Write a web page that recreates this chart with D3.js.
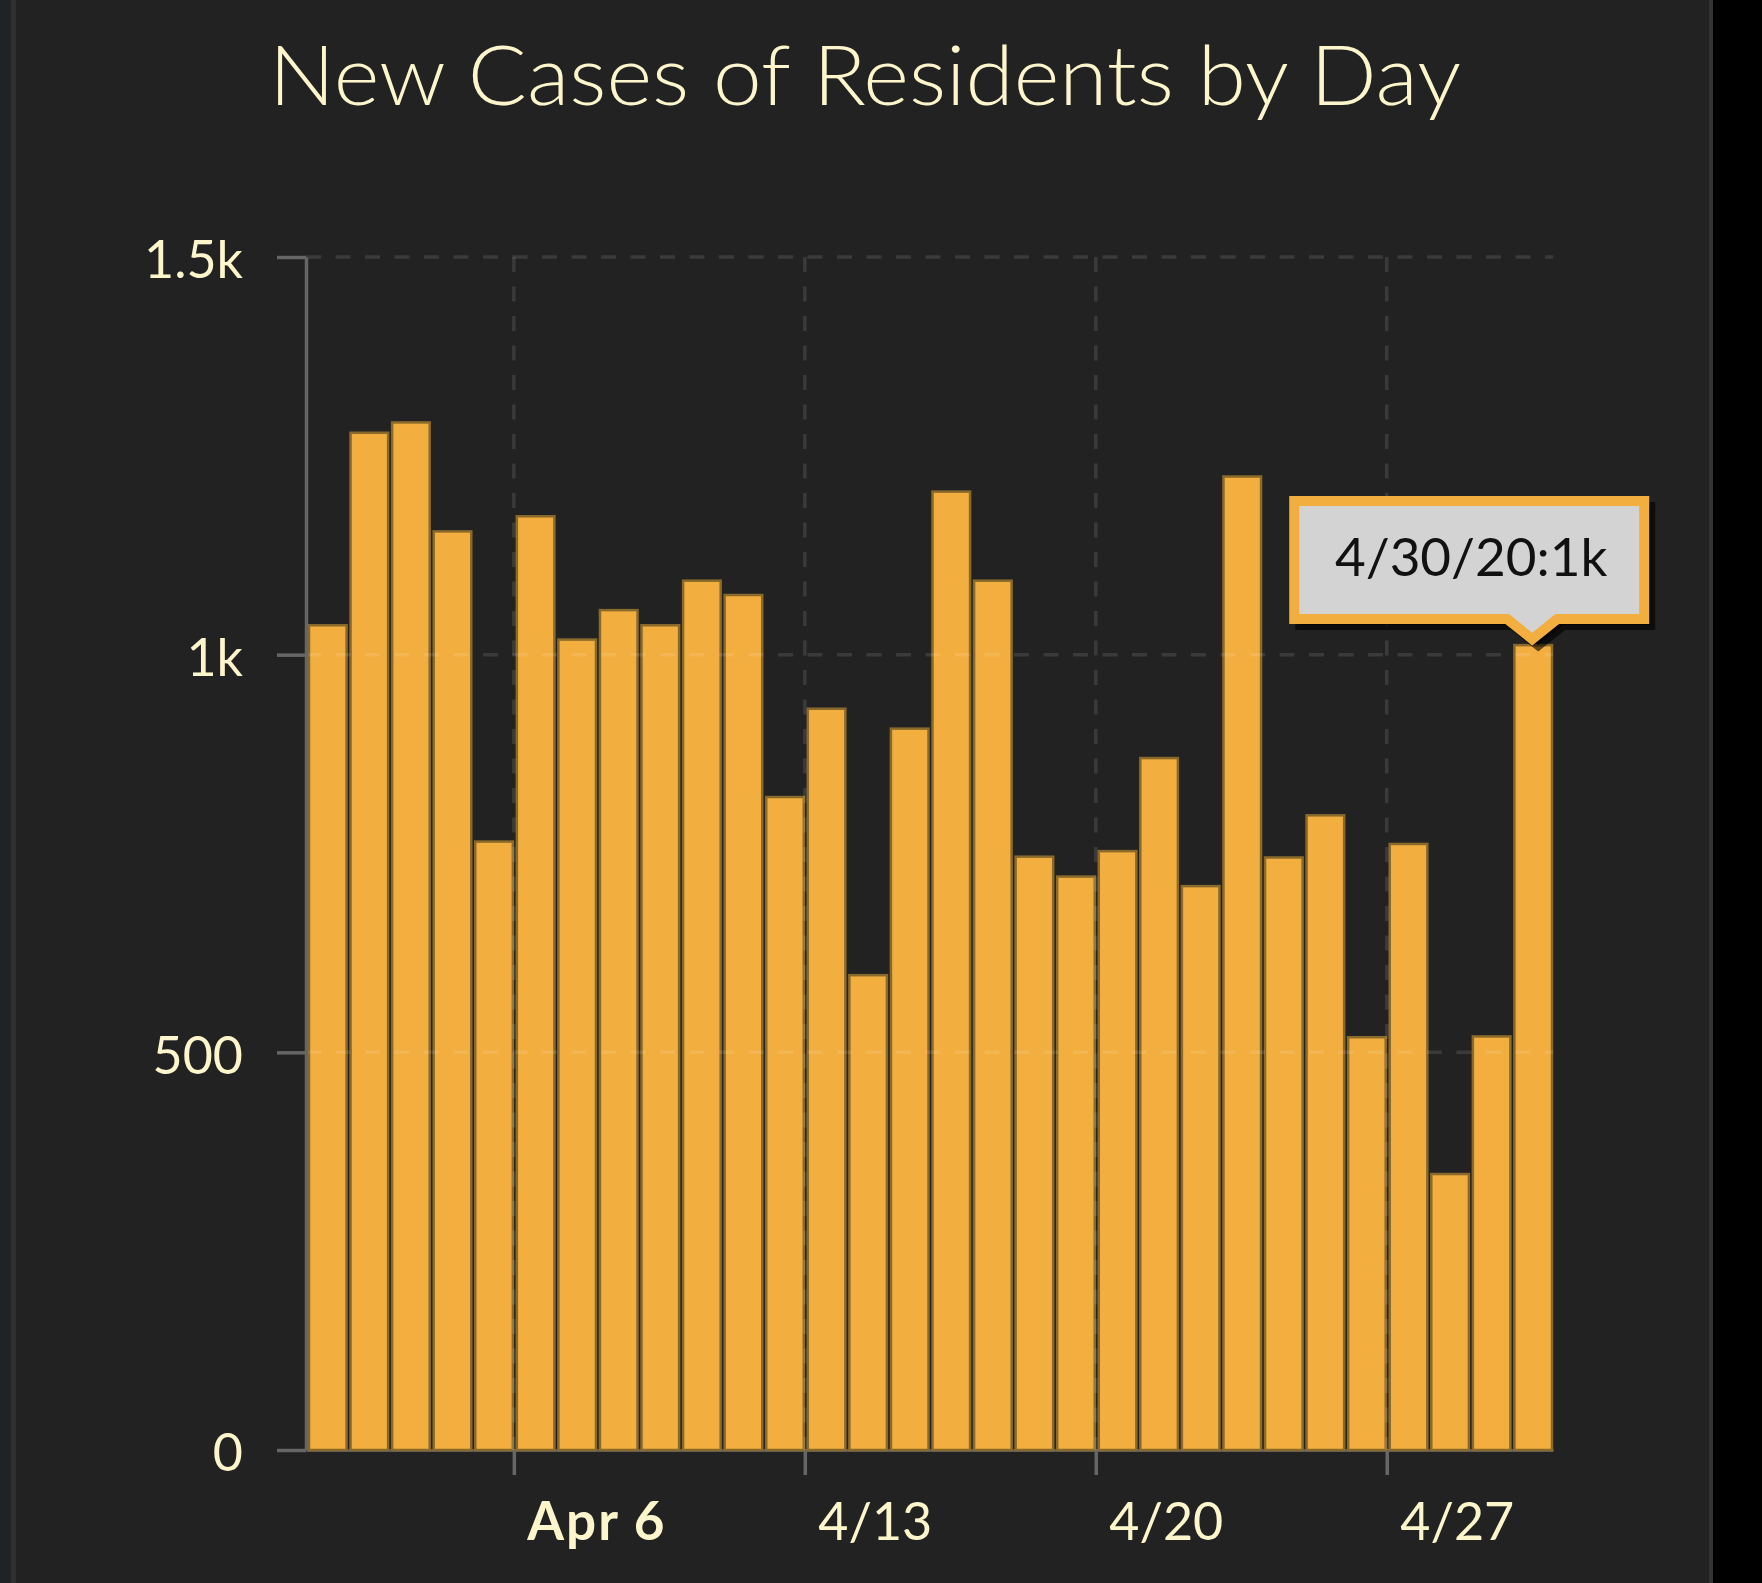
<!DOCTYPE html>
<html><head><meta charset="utf-8">
<script src="https://cdn.jsdelivr.net/npm/d3@7"></script>
<style>
html,body{margin:0;padding:0;background:#000;}
svg{display:block;}
</style></head><body>
<svg id="chart" width="1762" height="1583"></svg>
<script>
const title = "New Cases of Residents by Day";
const dates = ["2020-04-01","2020-04-02","2020-04-03","2020-04-04","2020-04-05","2020-04-06","2020-04-07","2020-04-08","2020-04-09","2020-04-10",
  "2020-04-11","2020-04-12","2020-04-13","2020-04-14","2020-04-15","2020-04-16","2020-04-17","2020-04-18","2020-04-19","2020-04-20",
  "2020-04-21","2020-04-22","2020-04-23","2020-04-24","2020-04-25","2020-04-26","2020-04-27","2020-04-28","2020-04-29","2020-04-30"];
const newCases = [1037, 1279, 1292, 1155, 765, 1174, 1019, 1056, 1037, 1093,
  1075, 821, 932, 597, 907, 1205, 1093, 746, 721, 753,
  870, 709, 1224, 745, 798, 519, 762, 347, 520, 1012];
const yTicks = [0, 500, 1000, 1500];
const yTickLabels = ["0", "500", "1k", "1.5k"];
const xTickDates = ["2020-04-06", "2020-04-13", "2020-04-20", "2020-04-27"];
const xTickLabels = ["Apr 6", "4/13", "4/20", "4/27"];
const tooltipLabel = "4/30/20:1k";

(function () {
const parse = d3.timeParse("%Y-%m-%d");
const data = dates.map((d, i) => ({date: parse(d), value: newCases[i]}));
const start = parse("2020-04-01"), end = parse("2020-05-01");

const svg = d3.select("#chart");
const W = 1762, H = 1583;
const cream = "#fdf6cc";
const font = "Lato, 'Open Sans', sans-serif";

// card background
svg.append("rect").attr("x", 0).attr("y", 0).attr("width", W).attr("height", H).attr("fill", "#000");
svg.append("rect").attr("x", 0).attr("y", 0).attr("width", 1713).attr("height", H).attr("fill", "#222222");
svg.append("rect").attr("x", 0).attr("y", 0).attr("width", 11).attr("height", H).attr("fill", "#1f2326");
svg.append("rect").attr("x", 11).attr("y", 0).attr("width", 5).attr("height", H).attr("fill", "#303030");
svg.append("rect").attr("x", 1709).attr("y", 0).attr("width", 4).attr("height", H).attr("fill", "#333333");

// title
svg.append("text").attr("x", 865).attr("y", 105).attr("text-anchor", "middle")
  .attr("font-family", font).attr("font-weight", 300).attr("font-size", 82)
  .attr("fill", cream).attr("textLength", 1192).attr("lengthAdjust", "spacingAndGlyphs")
  .text(title);

const x = d3.scaleTime().domain([start, end]).range([306, 1553]);
const y = d3.scaleLinear().domain([0, 1500]).range([1450, 257]);

// x axis (domain under bars)
const xAxis = svg.append("g").attr("transform", `translate(0,${y(0)})`)
  .call(d3.axisBottom(x).tickValues(xTickDates.map(parse)).tickSize(25).tickSizeOuter(0)
    .tickFormat((d, i) => xTickLabels[i]));
xAxis.select(".domain").attr("stroke", "#5e5e5e").attr("stroke-width", 3);
xAxis.selectAll(".tick line").attr("stroke", "#666").attr("stroke-width", 3.5);
xAxis.selectAll(".tick text").attr("x", 13).attr("y", 90).attr("dy", 0)
  .attr("text-anchor", "start").attr("fill", cream)
  .attr("font-family", font)
  .attr("font-size", (d, i) => i === 0 ? 53 : 52)
  .attr("letter-spacing", (d, i) => i === 0 ? 2 : 0)
  .attr("font-weight", (d, i) => i === 0 ? 700 : 400);

// bars
svg.append("g").selectAll("rect").data(data).join("rect")
  .attr("x", d => x(d.date) + 3)
  .attr("width", d => x(d3.timeDay.offset(d.date, 1)) - x(d.date) - 4)
  .attr("y", d => y(d.value))
  .attr("height", d => y(0) - y(d.value))
  .attr("fill", "#f2ae3e")
  .attr("stroke", "#8a6a2b")
  .attr("stroke-width", 2.5);

// gridlines (on top, faint)
const grid = svg.append("g").attr("stroke", "rgba(255,255,255,0.11)").attr("stroke-width", 3.5)
  .attr("stroke-dasharray", "15,14.5");
grid.selectAll("line.h").data(yTicks.filter(d => d > 0)).join("line").attr("class", "h")
  .attr("x1", x(start)).attr("x2", x(end)).attr("y1", d => y(d)).attr("y2", d => y(d));
grid.selectAll("line.v").data(xTickDates.map(parse)).join("line").attr("class", "v")
  .attr("x1", d => x(d)).attr("x2", d => x(d)).attr("y1", y(1500)).attr("y2", y(0));

// y axis
const yAxis = svg.append("g").attr("transform", `translate(${x(start)},0)`)
  .call(d3.axisLeft(y).tickValues(yTicks).tickSize(29).tickPadding(34).tickSizeOuter(0)
    .tickFormat((d, i) => yTickLabels[i]));
yAxis.select(".domain").attr("stroke", "#666").attr("stroke-width", 3.5);
yAxis.selectAll(".tick line").attr("stroke", "#666").attr("stroke-width", 3.5);
yAxis.selectAll(".tick text").attr("fill", cream).attr("font-family", font)
  .attr("font-size", 52).attr("font-weight", 400).attr("dy", "0.4em");

// tooltip on last bar
const last = data[data.length - 1];
const cx = (x(last.date) + x(d3.timeDay.offset(last.date, 1))) / 2;
const tipY = y(last.value) - 6;
const boxBottom = tipY - 20, boxTop = boxBottom - 118;
const boxLeft = cx - 238, boxRight = cx + 112;
const tipPath = d3.path();
tipPath.moveTo(boxLeft, boxTop);
tipPath.lineTo(boxRight, boxTop);
tipPath.lineTo(boxRight, boxBottom);
tipPath.lineTo(cx + 25, boxBottom);
tipPath.lineTo(cx, tipY);
tipPath.lineTo(cx - 25, boxBottom);
tipPath.lineTo(boxLeft, boxBottom);
tipPath.closePath();
svg.append("path").attr("d", tipPath.toString()).attr("transform", "translate(6,6)")
  .attr("fill", "rgba(0,0,0,0.6)").attr("stroke", "rgba(0,0,0,0.6)").attr("stroke-width", 10)
  .attr("stroke-linejoin", "miter");
svg.append("path").attr("d", tipPath.toString())
  .attr("fill", "#d3d3d3").attr("stroke", "#f2ae3e").attr("stroke-width", 10)
  .attr("stroke-linejoin", "miter");
svg.append("text").attr("x", (boxLeft + boxRight) / 2 + 2).attr("y", boxTop + 75)
  .attr("text-anchor", "middle").attr("font-family", font).attr("font-size", 53)
  .attr("fill", "#111").text(tooltipLabel);
})();
</script>
</body></html>
